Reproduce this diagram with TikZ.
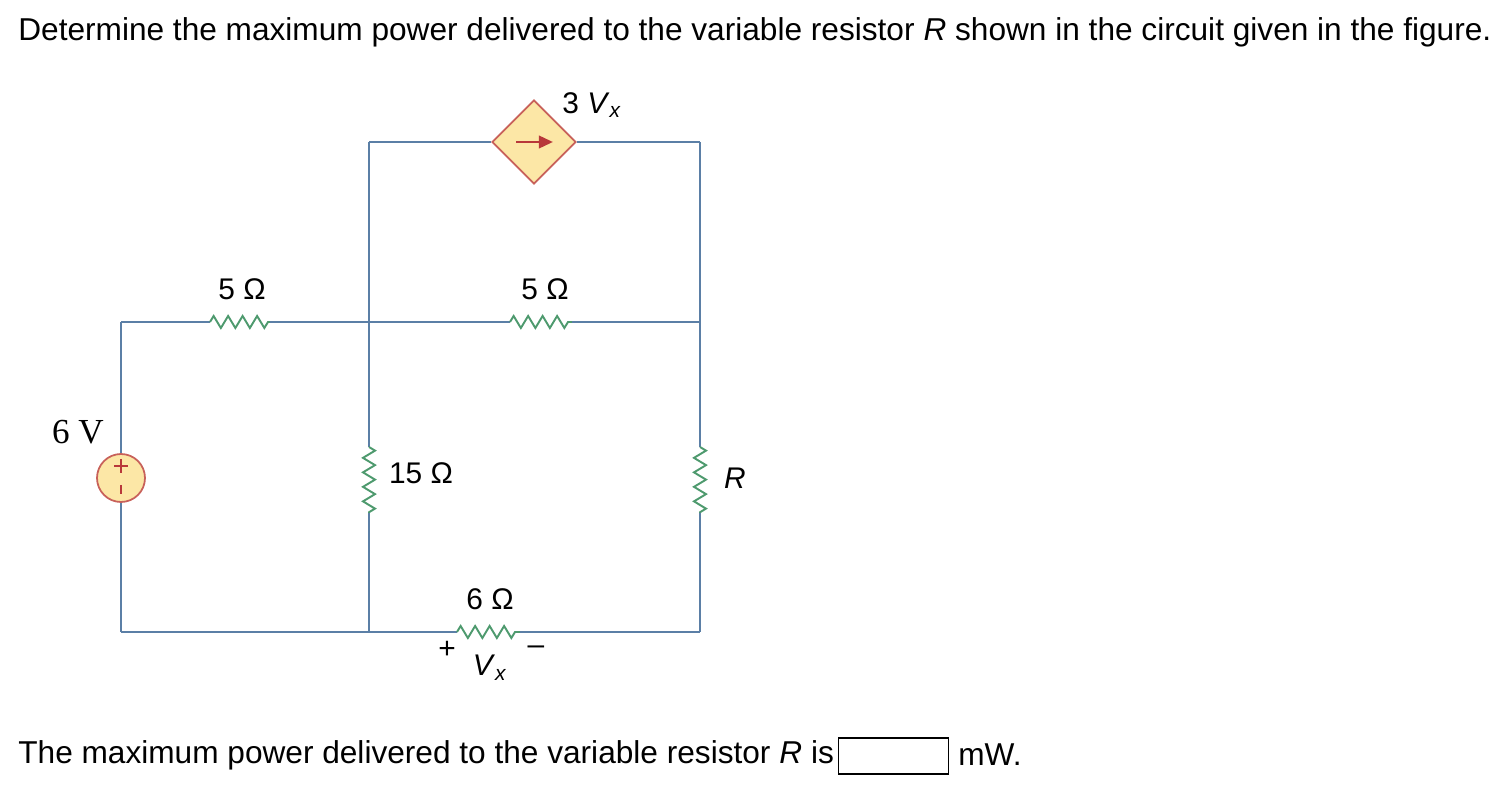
\documentclass[tikz,border=0pt]{standalone}
\usepackage{fontspec}
\setmainfont{Liberation Sans}
\newfontfamily\serifm{Liberation Serif}
\usetikzlibrary{decorations.pathmorphing,shapes.geometric,arrows.meta}
\definecolor{wire}{HTML}{5B7FA6}
\definecolor{res}{HTML}{4E9A6E}
\definecolor{srcf}{HTML}{FCE7A6}
\definecolor{srcd}{HTML}{C8615A}
\definecolor{arr}{HTML}{B8383A}
\newcommand{\Vx}{\textit{V}\textsubscript{\textit{x}}}
\begin{document}
\begin{tikzpicture}[x=0.02cm,y=-0.02cm,
  w/.style={draw=wire,line width=1.1pt},
  r/.style={draw=res,line width=1.1pt,decorate,decoration={zigzag,segment length=0.29cm,amplitude=0.12cm}},
  lab/.style={font=\fontsize{17}{20}\selectfont,inner sep=0},
  txt/.style={font=\fontsize{18}{21}\selectfont,anchor=west,inner sep=0}]
\useasboundingbox (0,0) rectangle (1502,800);
\node[txt] (title) at (18,32) {Determine the maximum power delivered to the variable resistor \textit{R} shown in the circuit given in the figure.};
\node[txt] (ans) at (18,755) {The maximum power delivered to the variable resistor \textit{R} is};
\node[draw=black,line width=0.8pt,minimum width=110*0.02cm,minimum height=36*0.02cm,anchor=west] (box) at (838,756) {};
\node[txt] (mw) at (958,755) {mW.};
\coordinate (tl) at (369,142); \coordinate (tr) at (700,142);
\coordinate (ml) at (121,322); \coordinate (mm) at (369,322); \coordinate (mr) at (700,322);
\coordinate (bl) at (121,632); \coordinate (bm) at (369,632); \coordinate (br) at (700,632);
\node[diamond,draw=srcd,fill=srcf,line width=1pt,minimum width=84*0.02cm,minimum height=84*0.02cm,inner sep=0] (cs) at (534,142) {};
\draw[w] (tl) -- (cs.west); \draw[w] (cs.east) -- (tr);
\draw[arr,line width=1.6pt,-{Triangle[length=8pt,width=7pt]}] (516,142) -- (553,142);
\node[lab] (csl) at (592,105) {3 \Vx};
\coordinate (r1a) at (210,322); \coordinate (r1b) at (270,322);
\coordinate (r2a) at (510,322); \coordinate (r2b) at (572,322);
\draw[w] (ml) -- (r1a); \draw[r] (r1a) -- (r1b); \draw[w] (r1b) -- (mm) -- (r2a);
\draw[r] (r2a) -- (r2b); \draw[w] (r2b) -- (mr);
\node[lab] (l1) at (242,289) {5 Ω};
\node[lab] (l2) at (545,289) {5 Ω};
\node[circle,draw=srcd,fill=srcf,line width=1pt,minimum size=48*0.02cm,inner sep=0] (vs) at (121,478) {};
\draw[arr,line width=1.2pt] (114,466) -- (128,466) (121,459) -- (121,473) (121,485) -- (121,494);
\draw[w] (ml) -- (vs.north); \draw[w] (vs.south) -- (bl);
\node[lab,font=\serifm\fontsize{20}{22}\selectfont] (vl) at (78,432) {6 V};
\coordinate (r3a) at (369,447); \coordinate (r3b) at (369,513);
\draw[w] (tl) -- (r3a); \draw[r] (r3a) -- (r3b); \draw[w] (r3b) -- (bm);
\node[lab] (l3) at (421,473) {15 Ω};
\coordinate (r4a) at (700,447); \coordinate (r4b) at (700,513);
\draw[w] (tr) -- (r4a); \draw[r] (r4a) -- (r4b); \draw[w] (r4b) -- (br);
\node[lab] (l4) at (735,478) {\textit{R}};
\coordinate (r5a) at (457,632); \coordinate (r5b) at (520,632);
\draw[w] (bl) -- (r5a); \draw[r] (r5a) -- (r5b); \draw[w] (r5b) -- (br);
\node[lab] (l5) at (490,599) {6 Ω};
\node[lab] (pl) at (447,650) {+};
\node[lab] (vx) at (490,668) {\Vx};
\node[lab] (mi) at (536,650) {\textendash};
\end{tikzpicture}
\end{document}
